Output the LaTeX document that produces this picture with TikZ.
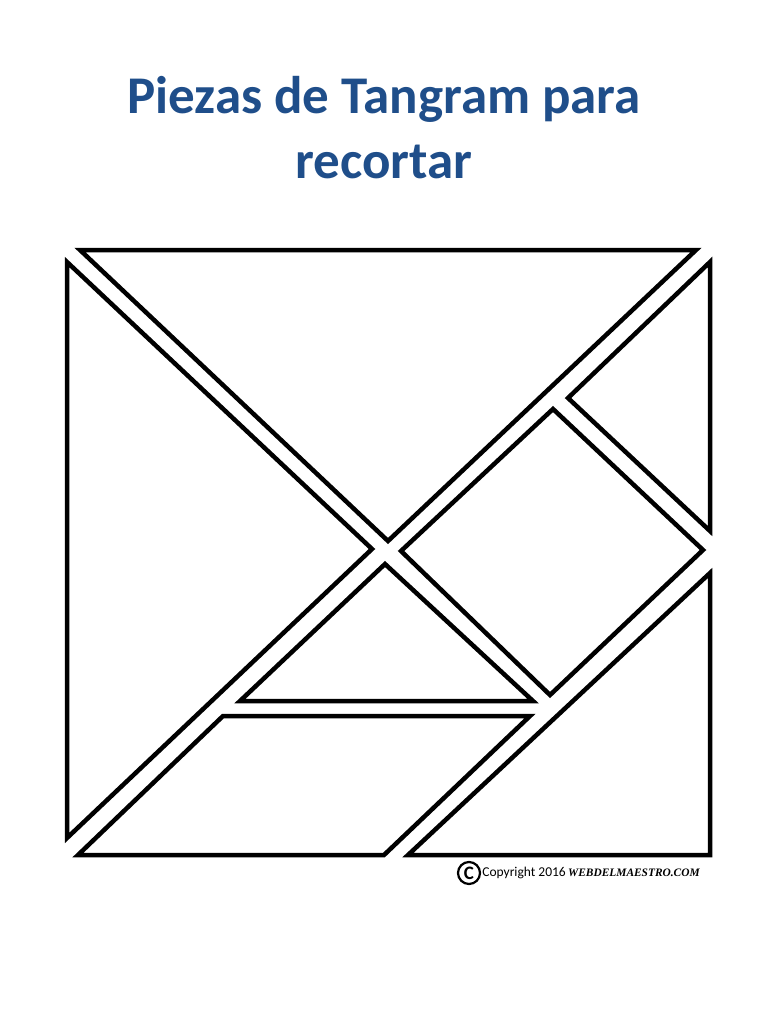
\documentclass[tikz,border=0pt]{standalone}
\usepackage{fontspec}
\setmainfont{Carlito}
\newfontfamily\webfont{Liberation Serif}
\usepackage{xcolor}
\definecolor{titel-blau}{HTML}{1F4E8A}

\tikzset{
  pieza/.style={draw=black, line width=4.5pt, line join=miter, fill=white},
  titulo/.style={text=titel-blau, font=\bfseries\fontsize{53}{65}\selectfont, align=center}
}

\begin{document}
\begin{tikzpicture}[x=1pt, y=-1pt]
    % Seitenrahmen
    \useasboundingbox (0,0) rectangle (768,1024);
    \fill[white] (0,0) rectangle (768,1024);

    % Titel
    \node[titulo] (titulo) at (384,128) {Piezas de Tangram para\\recortar};

    % Die sieben Teile
    \draw[pieza] (80,250) -- (696,250) -- (388,541) -- cycle;            % grande arriba
    \draw[pieza] (67,262) -- (67,838) -- (372,549) -- cycle;             % grande izquierda
    \draw[pieza] (710,262) -- (710,531) -- (568,398) -- cycle;           % pequeno derecha
    \draw[pieza] (553,409) -- (703,550) -- (550,695) -- (401,551) -- cycle; % cuadrado
    \draw[pieza] (385,564) -- (240,701) -- (533,701) -- cycle;           % pequeno centro
    \draw[pieza] (223,716) -- (530,716) -- (384,855) -- (78,855) -- cycle;  % paralelogramo
    \draw[pieza] (710,573) -- (710,855) -- (408,855) -- cycle;           % mediano

    % Copyright
    \node[draw=black, line width=2.2pt, circle, inner sep=0pt, minimum size=22pt,
          font=\bfseries\fontsize{19}{19}\selectfont] (copy) at (469,873) {C};
    \node[anchor=west, inner sep=0pt, font=\fontsize{13.5}{14}\selectfont] (ano)
        at ([xshift=1pt]copy.east) {Copyright 2016};
    \node[anchor=base west, inner sep=0pt, font=\webfont\bfseries\itshape\fontsize{11.4}{13}\selectfont] (web)
        at ([xshift=2pt]ano.base east) {WEBDELMAESTRO.COM};
\end{tikzpicture}
\end{document}
